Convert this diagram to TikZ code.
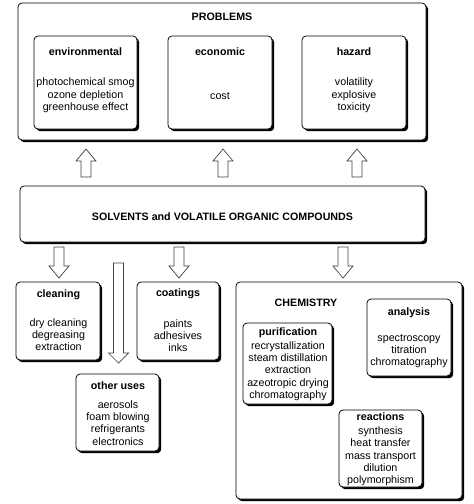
\documentclass[tikz,border=0pt]{standalone}
\usepackage{fontspec}
\setmainfont{Liberation Sans}
\usetikzlibrary{shadows}
\tikzset{
  box/.style={draw=black, line width=0.8pt, rounded corners=4pt, fill=white,
    drop shadow={shadow xshift=2.2pt, shadow yshift=-2.2pt, opacity=1, fill=black},
    inner sep=0pt},
  ttl/.style={font=\fontsize{10.7}{12.3}\selectfont\bfseries, align=center, inner sep=0pt},
  txt/.style={font=\fontsize{10.7}{12.3}\selectfont, align=center, inner sep=0pt},
  barrow/.style={draw=black!75, line width=0.7pt, fill=white, line join=miter}
}
\newcommand\upbarrow[3]{%
  \draw[barrow] (#1-5,#3) -- (#1-5,#2+12) -- (#1-10,#2+12) -- (#1,#2) -- (#1+10,#2+12) -- (#1+5,#2+12) -- (#1+5,#3) -- cycle;}
\newcommand\downbarrow[4]{% x, tail, tip, head length
  \draw[barrow] (#1-5,#2) -- (#1-5,#3-#4) -- (#1-10,#3-#4) -- (#1,#3) -- (#1+10,#3-#4) -- (#1+5,#3-#4) -- (#1+5,#2) -- cycle;}
\begin{document}
\begin{tikzpicture}[x=1pt,y=-1pt]
\useasboundingbox (0,0) rectangle (474,504);
% PROBLEMS
\node[box, minimum width=408pt, minimum height=137pt] (problems) at (222,71.5) {};
\node[ttl] (problemsT) at (222,17) {PROBLEMS};
\node[box, minimum width=103pt, minimum height=93pt] (env) at (85.5,82.5) {};
\node[ttl] (envT) at (85.5,52) {environmental};
\node[txt] (envB) at (85.5,95.5) {photochemical smog\\ozone depletion\\greenhouse effect};
\node[box, minimum width=104pt, minimum height=93pt] (eco) at (220,82.5) {};
\node[ttl] (ecoT) at (220,52) {economic};
\node[txt] (ecoB) at (220,96) {cost};
\node[box, minimum width=104pt, minimum height=93pt] (haz) at (354,82.5) {};
\node[ttl] (hazT) at (354,52) {hazard};
\node[txt] (hazB) at (354,95.5) {volatility\\explosive\\toxicity};
% arrows up
\upbarrow{86}{149}{177}
\upbarrow{223}{149}{177}
\upbarrow{357}{149}{177}
% SOLVENTS
\node[box, minimum width=405pt, minimum height=56pt] (solv) at (222.5,214) {};
\node[ttl] (solvT) at (222.5,217) {SOLVENTS and VOLATILE ORGANIC COMPOUNDS};
% arrows down
\downbarrow{59}{247}{278}{12}
\downbarrow{179}{247}{278}{12}
\downbarrow{343}{247}{278}{12}
\downbarrow{118.5}{263}{363}{10}
% cleaning
\node[box, minimum width=84pt, minimum height=78pt] (clean) at (58,321) {};
\node[ttl] (cleanT) at (58.5,295) {cleaning};
\node[txt] (cleanB) at (58.5,334.5) {dry cleaning\\degreasing\\extraction};
% coatings
\node[box, minimum width=82pt, minimum height=78pt] (coat) at (178,321) {};
\node[ttl] (coatT) at (178,294) {coatings};
\node[txt] (coatB) at (178,335.5) {paints\\adhesives\\inks};
% other uses
\node[box, minimum width=83pt, minimum height=77pt] (other) at (117.5,412.5) {};
\node[ttl] (otherT) at (118,386) {other uses};
\node[txt] (otherB) at (118,423) {aerosols\\foam blowing\\refrigerants\\electronics};
% CHEMISTRY
\node[box, minimum width=226pt, minimum height=217pt] (chem) at (349,390.5) {};
\node[ttl] (chemT) at (306,303) {CHEMISTRY};
\node[box, minimum width=84pt, minimum height=77pt] (ana) at (409,337.5) {};
\node[ttl] (anaT) at (409,313) {analysis};
\node[txt] (anaB) at (409,351) {spectroscopy\\titration\\chromatography};
\node[box, minimum width=89pt, minimum height=81pt] (pur) at (287.5,363.5) {};
\node[ttl] (purT) at (288,333) {purification};
\node[txt] (purB) at (288,371) {recrystallization\\steam distillation\\extraction\\azeotropic drying\\chromatography};
\node[box, minimum width=83pt, minimum height=77pt] (rea) at (380.5,448.5) {};
\node[ttl] (reaT) at (380.5,417) {reactions};
\node[txt] (reaB) at (380.5,456.5) {synthesis\\heat transfer\\mass transport\\dilution\\polymorphism};
\end{tikzpicture}
\end{document}
